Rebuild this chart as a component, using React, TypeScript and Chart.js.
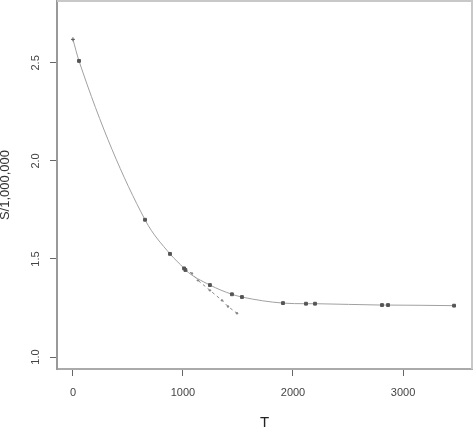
import React, { useEffect, useRef } from "react";
import { Chart, registerables } from "chart.js";

Chart.register(...registerables);

const mainT = [0, 55, 655, 882, 1010, 1022, 1245, 1445, 1536, 1909, 2118, 2200, 2809, 2864, 3464];
const mainS = [2.62, 2.51, 1.70, 1.526, 1.452, 1.444, 1.367, 1.32, 1.306, 1.275, 1.272, 1.272, 1.265, 1.265, 1.262];

const dashT = [1018, 1082, 1136, 1245, 1355, 1409, 1491];
const dashS = [1.449, 1.426, 1.391, 1.34, 1.289, 1.258, 1.223];

const xTicks = [0, 1000, 2000, 3000];
const yTicks = [1.0, 1.5, 2.0, 2.5];

const boxPlugin = {
  id: "box",
  afterDraw(chart: any) {
    const { ctx, chartArea } = chart;
    ctx.save();
    ctx.strokeStyle = "#c8c8c8";
    ctx.lineWidth = 2;
    ctx.beginPath();
    ctx.moveTo(chartArea.left, chartArea.top);
    ctx.lineTo(chartArea.right, chartArea.top);
    ctx.lineTo(chartArea.right, chartArea.bottom);
    ctx.stroke();
    ctx.restore();
  },
};

export default function App() {
  const ref = useRef<HTMLCanvasElement>(null);
  useEffect(() => {
    const chart = new Chart(ref.current!, {
      type: "scatter",
      data: {
        datasets: [
          {
            data: mainT.map((t, i) => ({ x: t, y: mainS[i] })),
            showLine: true,
            borderColor: "#a0a0a0",
            borderWidth: 1,
            cubicInterpolationMode: "monotone",
            pointStyle: mainT.map((_, i) => (i === 0 ? "cross" : "rect")) as any,
            pointRadius: 2,
            pointBackgroundColor: "#555",
            pointBorderColor: "#555",
            pointBorderWidth: 1,
          },
          {
            data: dashT.map((t, i) => ({ x: t, y: dashS[i] })),
            showLine: true,
            borderColor: "#8a8a8a",
            borderWidth: 1,
            borderDash: [3, 3],
            pointStyle: "circle",
            pointRadius: 1.2,
            pointBackgroundColor: "#888",
            pointBorderColor: "#888",
            pointBorderWidth: 0,
          },
        ],
      },
      options: {
        responsive: false,
        animation: false,
        layout: { autoPadding: false, padding: { top: 1, right: 2, left: 0, bottom: 0 } },
        plugins: { legend: { display: false }, tooltip: { enabled: false } },
        scales: {
          x: {
            type: "linear",
            min: -145,
            max: 3627,
            afterBuildTicks: (s: any) => {
              s.ticks = xTicks.map((v) => ({ value: v }));
            },
            afterFit: (s: any) => {
              s.height = 59;
              s.paddingLeft = 0;
              s.paddingRight = 0;
            },
            grid: { drawOnChartArea: false, drawTicks: true, tickLength: 7, tickColor: "#666", tickWidth: 1 },
            border: { display: true, color: "#aaa", width: 2 },
            ticks: {
              font: { family: "Liberation Sans, Arial, sans-serif", size: 11 },
              color: "#444",
              padding: 10,
              maxRotation: 0,
              minRotation: 0,
              callback: (v: any) => String(v),
            },
            title: {
              display: true,
              text: "T",
              font: { family: "Liberation Sans, Arial, sans-serif", size: 15, lineHeight: 1 },
              color: "#222",
              padding: { top: 0, bottom: -2 },
            },
          },
          y: {
            type: "linear",
            min: 0.939,
            max: 2.8155,
            afterBuildTicks: (s: any) => {
              s.ticks = yTicks.map((v) => ({ value: v }));
            },
            afterFit: (s: any) => {
              s.width = 57;
              s.paddingTop = 0;
              s.paddingBottom = 0;
            },
            grid: { drawOnChartArea: false, drawTicks: true, tickLength: 7, tickColor: "#666", tickWidth: 1 },
            border: { display: true, color: "#999", width: 2 },
            ticks: {
              font: { family: "Liberation Sans, Arial, sans-serif", size: 11 },
              color: "#444",
              padding: 6,
              minRotation: 90,
              maxRotation: 90,
              crossAlign: "center",
              callback: (v: any) => Number(v).toFixed(1),
            },
            title: {
              display: true,
              text: "S/1,000,000",
              font: { family: "Liberation Sans, Arial, sans-serif", size: 13, lineHeight: 1.2 },
              color: "#333",
              padding: { top: -2, bottom: 0 },
            },
          },
        },
      },
      plugins: [boxPlugin],
    } as any);
    return () => chart.destroy();
  }, []);
  return (
    <div style={{ position: "absolute", left: 0, top: 0, width: 474, height: 428, background: "#fff" }}>
      <canvas ref={ref} width={474} height={428} />
    </div>
  );
}
